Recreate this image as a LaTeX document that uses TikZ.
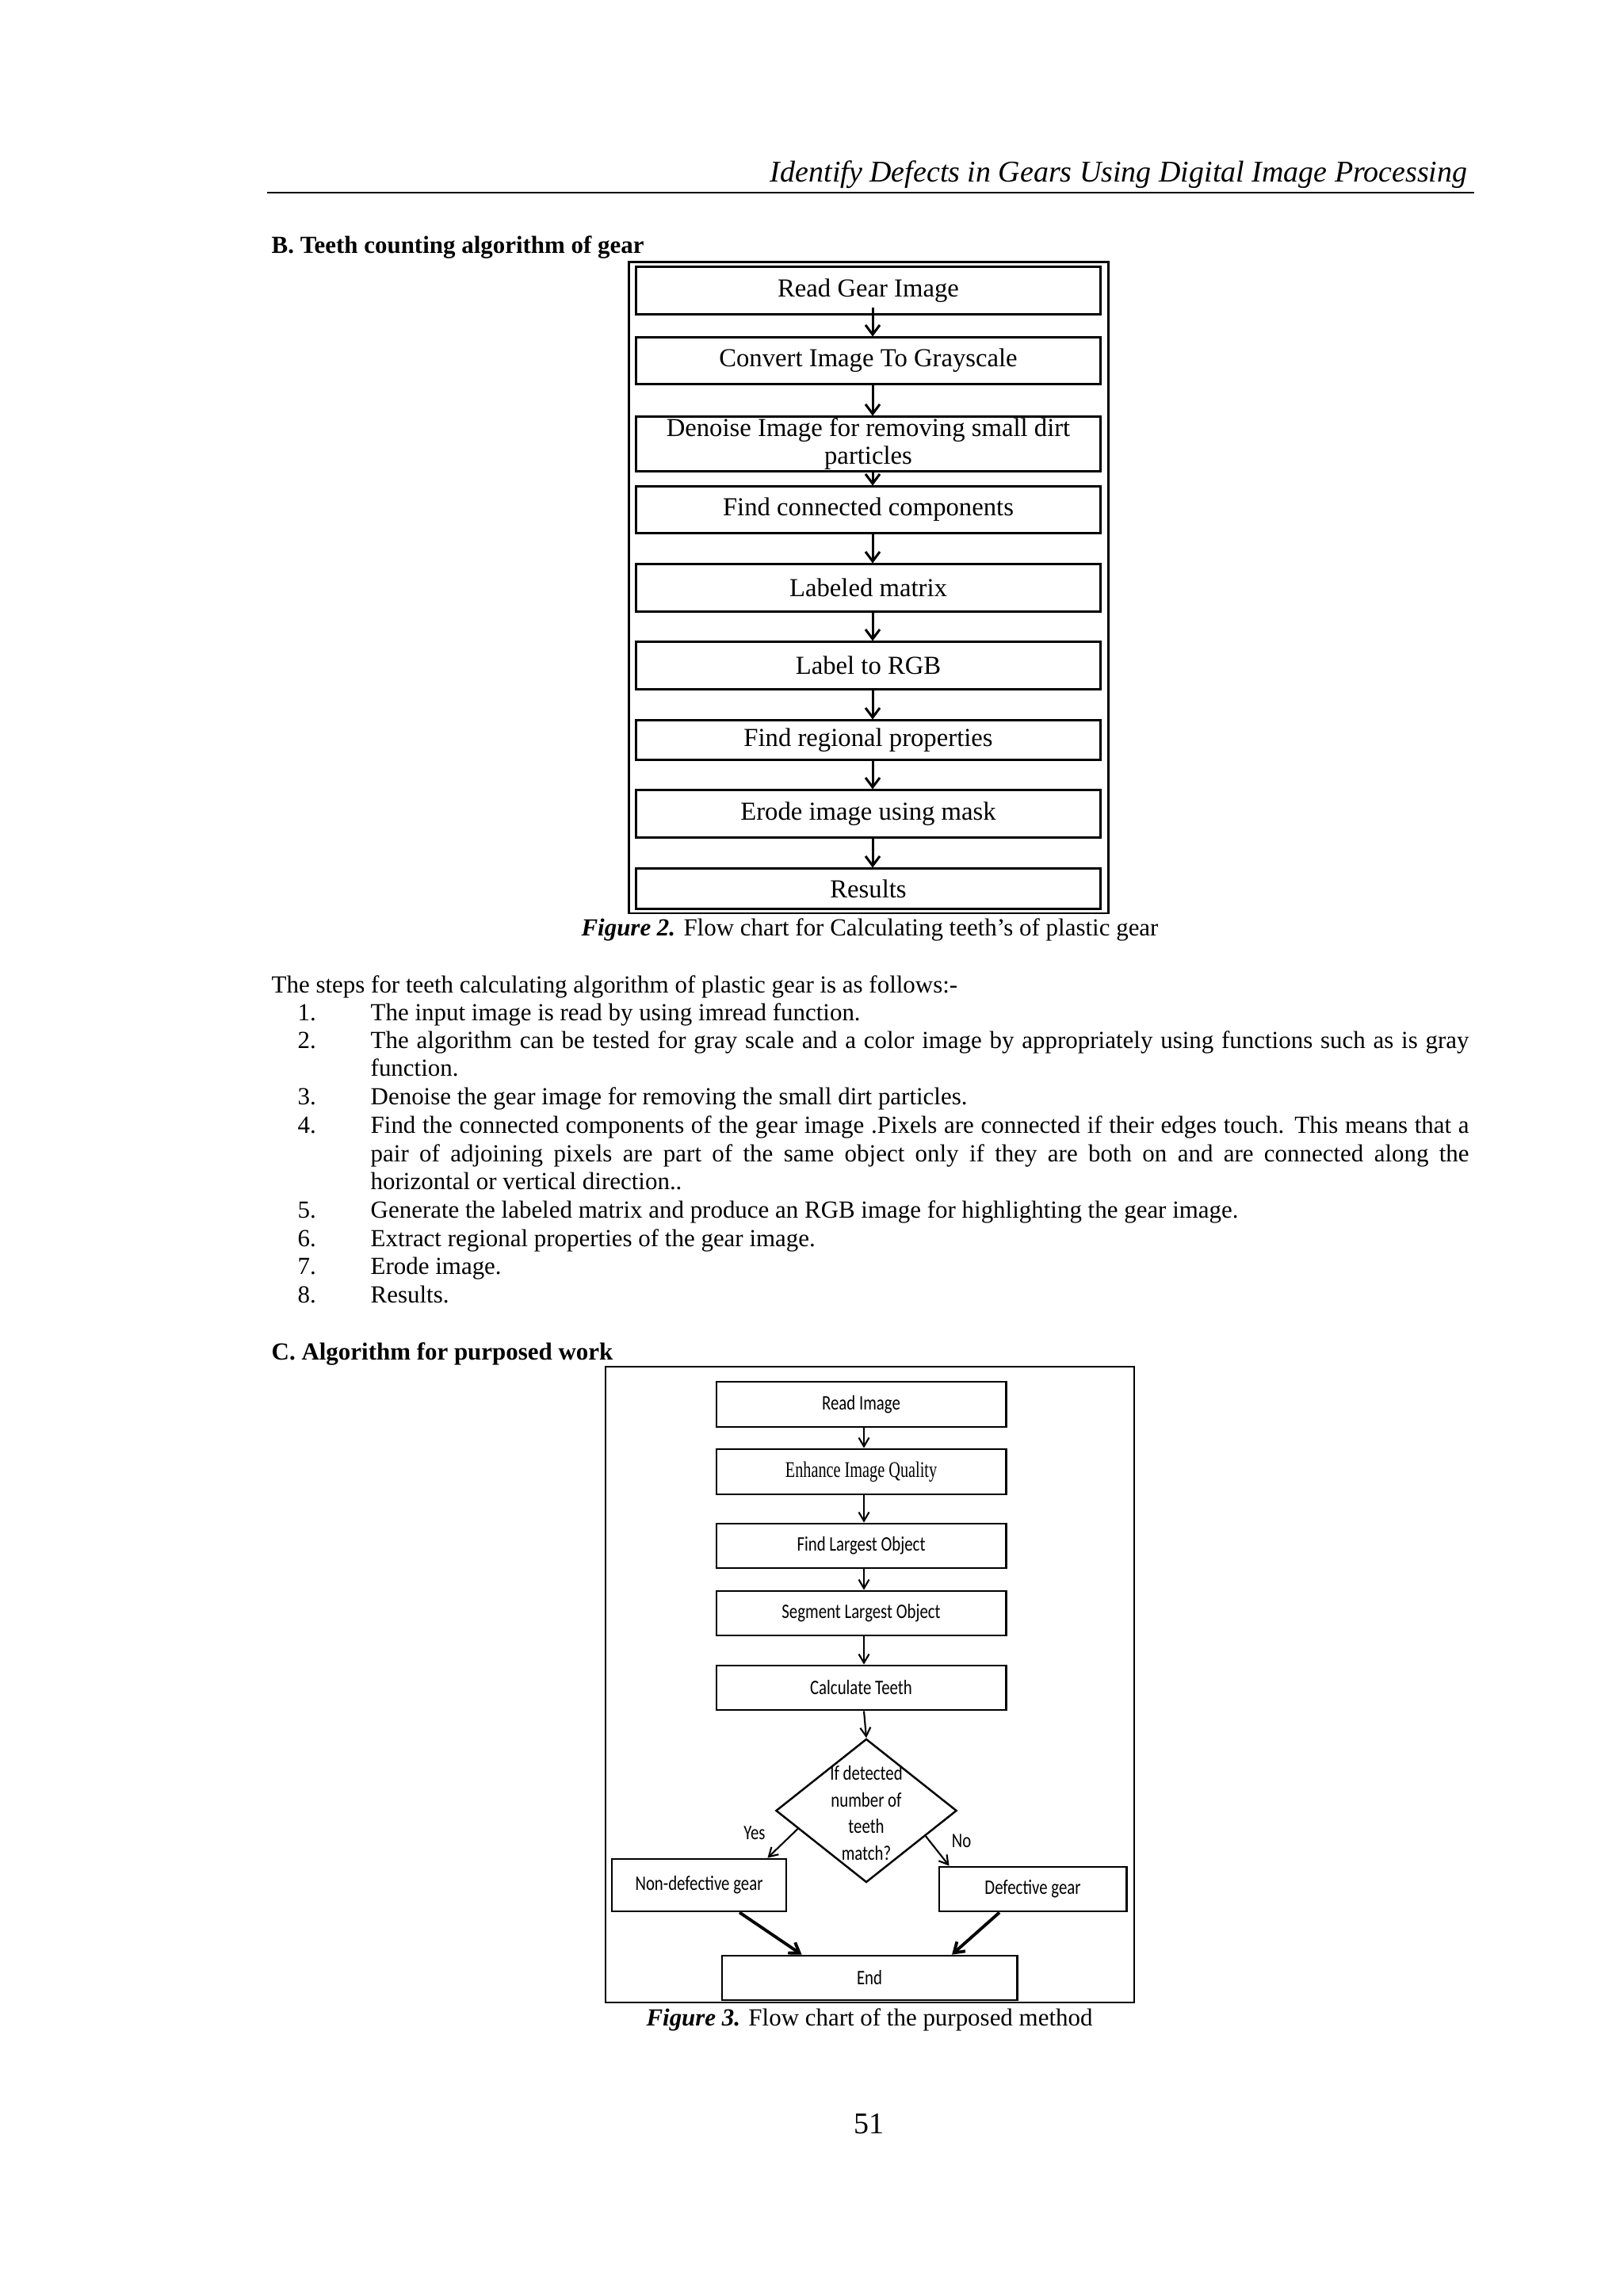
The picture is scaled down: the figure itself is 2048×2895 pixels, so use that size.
\documentclass[tikz,border=0pt]{standalone}
\usepackage{fontspec}
\setmainfont{Liberation Serif}
\newfontfamily\calib[FakeStretch=0.8]{Carlito}
\newfontfamily\condser[FakeStretch=0.72]{Liberation Serif}
\usetikzlibrary{arrows.meta, calc, shapes.geometric}

\newcommand{\bodysize}{\fontsize{8.8pt}{10pt}\selectfont}
\newcommand{\headsize}{\fontsize{10.8pt}{12pt}\selectfont}
\newcommand{\chartsize}{\fontsize{9.3pt}{10pt}\selectfont}
\newcommand{\smallchart}{\fontsize{7.4pt}{9.6pt}\selectfont}
\newcommand{\enhsize}{\fontsize{8pt}{9.6pt}\selectfont}

\begin{document}
\begin{tikzpicture}[x=0.01cm, y=-0.01cm,% one unit = one pixel of the page
         > = {Straight Barb[length=1.2mm, width=1.8mm]},
txt/.style  = {anchor=base west, inner sep=0pt, font=\bodysize},
fbox/.style = {draw, line width=0.85pt, minimum width=5.85cm,
               inner sep=0pt, align=center, font=\chartsize},
pbox/.style = {draw, line width=0.8pt, minimum width=3.65cm,
               inner sep=0pt, font=\calib\smallchart},
flow/.style = {->, line width=0.85pt},
pflow/.style = {->, line width=0.6pt,
                >={Straight Barb[length=1.1mm, width=1.3mm]}},
thickflow/.style = {->, line width=1.1pt,
                    >={Straight Barb[length=1.2mm, width=1.6mm]}}
                    ]
	\useasboundingbox (0,0) rectangle (2048,2895);

	% running head
	\node[anchor=base east, inner sep=0pt, font=\headsize\itshape] (title) at (1852,230)
	      {Identify Defects in Gears Using Digital Image Processing};
	\draw[line width=0.65pt] (337,243) -- (1860,243);

	\node[txt, font=\bodysize\bfseries] (secB) at (342,320) {B. Teeth counting algorithm of gear};

	% first flow chart
	\draw[line width=0.85pt] (793,331) rectangle (1398,1152);
	\node[fbox, minimum height=0.59cm] (read)    at (1095.5,366.5) {Read Gear Image};
	\node[fbox, minimum height=0.58cm] (gray)    at (1095.5,455)   {Convert Image To Grayscale};
	\node[fbox, minimum height=0.68cm] (denoise) at (1095.5,560)   {Denoise Image for removing small dirt\\particles};
	\node[fbox, minimum height=0.58cm] (conn)    at (1095.5,643)   {Find connected components};
	\node[fbox, minimum height=0.59cm] (labmat)  at (1095.5,741.5) {Labeled matrix};
	\node[fbox, minimum height=0.59cm] (rgb)     at (1095.5,839.5) {Label to RGB};
	\node[fbox, minimum height=0.49cm] (props)   at (1095.5,933.5) {Find regional properties};
	\node[fbox, minimum height=0.59cm] (erode)   at (1095.5,1026.5) {Erode image using mask};
	\node[fbox, minimum height=0.50cm] (result)  at (1095.5,1121)  {Results};

	\draw[flow] ([xshift=0.055cm, yshift=0.09cm]read.south) -- ([xshift=0.055cm]gray.north);
	\draw[flow] ([xshift=0.055cm]gray.south)    -- ([xshift=0.055cm]denoise.north);
	\draw[flow] ([xshift=0.055cm]denoise.south) -- ([xshift=0.055cm]conn.north);
	\draw[flow] ([xshift=0.055cm]conn.south)    -- ([xshift=0.055cm]labmat.north);
	\draw[flow] ([xshift=0.055cm]labmat.south)  -- ([xshift=0.055cm]rgb.north);
	\draw[flow] ([xshift=0.055cm]rgb.south)     -- ([xshift=0.055cm]props.north);
	\draw[flow] ([xshift=0.055cm]props.south)   -- ([xshift=0.055cm]erode.north);
	\draw[flow] ([xshift=0.055cm]erode.south)   -- ([xshift=0.055cm]result.north);

	\node[anchor=base, inner sep=0pt, font=\bodysize] (cap2) at (1097.5,1180)
	      {\textbf{\textit{Figure 2.}} Flow chart for Calculating teeth’s of plastic gear};

	% list of steps
	\node[txt] (intro) at (342,1252) {The steps for teeth calculating algorithm of plastic gear is as follows:-};
	\node[txt] (n1) at (375,1287) {1.};
	\node[txt] (s1) at (467,1287) {The input image is read by using imread function.};
	\node[txt] (n2) at (375,1322) {2.};
	\node[txt] (s2) at (467,1322) {\makebox[13.85cm][s]{The algorithm can be tested for gray scale and a color image by appropriately using functions such as is gray}};
	\node[txt] (s2b) at (467,1357) {function.};
	\node[txt] (n3) at (375,1393) {3.};
	\node[txt] (s3) at (467,1393) {Denoise the gear image for removing the small dirt particles.};
	\node[txt] (n4) at (375,1429) {4.};
	\node[txt] (s4) at (467,1429) {\makebox[13.85cm][s]{Find the connected components of the gear image .Pixels are connected if their edges touch. This means that a}};
	\node[txt] (s4b) at (467,1465) {\makebox[13.85cm][s]{pair of adjoining pixels are part of the same object only if they are both on and are connected along the}};
	\node[txt] (s4c) at (467,1500) {horizontal or vertical direction..};
	\node[txt] (n5) at (375,1536) {5.};
	\node[txt] (s5) at (467,1536) {Generate the labeled matrix and produce an RGB image for highlighting the gear image.};
	\node[txt] (n6) at (375,1572) {6.};
	\node[txt] (s6) at (467,1572) {Extract regional properties of the gear image.};
	\node[txt] (n7) at (375,1607) {7.};
	\node[txt] (s7) at (467,1607) {Erode image.};
	\node[txt] (n8) at (375,1643) {8.};
	\node[txt] (s8) at (467,1643) {Results.};

	\node[txt, font=\bodysize\bfseries] (secC) at (342,1715) {C. Algorithm for purposed work};

	% second flow chart
	\draw[line width=0.8pt] (764,1724) rectangle (1431,2526);
	\node[pbox, minimum height=0.57cm] (rdimg) at (1086.5,1771.5) {Read Image};
	\node[pbox, minimum height=0.57cm, font=\condser\enhsize] (enh) at (1086.5,1856.5) {Enhance Image Quality};
	\node[pbox, minimum height=0.56cm] (large) at (1086.5,1950) {Find Largest Object};
	\node[pbox, minimum height=0.56cm] (seg)   at (1086.5,2035) {Segment Largest Object};
	\node[pbox, minimum height=0.56cm] (teeth) at (1086.5,2129) {Calculate Teeth};
	\node[draw, diamond, line width=0.7pt, minimum width=2.28cm, minimum height=1.81cm,
	      inner sep=0pt] (match) at (1093,2284) {};
	\node[align=center, inner sep=0pt, font=\calib\smallchart] (matchtxt) at (1093,2287)
	      {If detected\\number of\\teeth\\match?};
	\node[pbox, minimum width=2.2cm, minimum height=0.66cm]  (ndef) at (882,2378)  {Non-defective gear};
	\node[pbox, minimum width=2.36cm, minimum height=0.56cm] (def)  at (1303,2383) {Defective gear};
	\node[pbox, minimum width=3.72cm, minimum height=0.56cm] (stop) at (1097,2495) {End};

	\draw[pflow] ([xshift=0.035cm]rdimg.south) -- ([xshift=0.035cm]enh.north);
	\draw[pflow] ([xshift=0.035cm]enh.south)   -- ([xshift=0.035cm]large.north);
	\draw[pflow] ([xshift=0.035cm]large.south) -- ([xshift=0.035cm]seg.north);
	\draw[pflow] ([xshift=0.035cm]seg.south)   -- ([xshift=0.035cm]teeth.north);
	\draw[pflow] ([xshift=0.035cm]teeth.south) -- (match.north);

	\draw[pflow] ($(match.west)!0.25!(match.south)$) -- ([xshift=-0.25cm]ndef.north east);
	\draw[pflow] ($(match.east)!0.35!(match.south)$) -- ([xshift=0.14cm]def.north west);
	\node[anchor=base, inner sep=0pt, font=\calib\smallchart] (yes) at (952,2320) {Yes};
	\node[anchor=base, inner sep=0pt, font=\calib\smallchart] (no)  at (1213,2330) {No};

	\draw[thickflow] ([xshift=0.51cm]ndef.south) -- ([xshift=1.02cm]stop.north west);
	\draw[thickflow] ([xshift=-0.42cm]def.south) -- ([xshift=1.04cm]stop.north);

	\node[anchor=base, inner sep=0pt, font=\bodysize] (cap3) at (1097,2555)
	      {\textbf{\textit{Figure 3.}} Flow chart of the purposed method};

	% page number
	\node[anchor=base, inner sep=0pt, font=\headsize] (page) at (1096,2691) {51};
\end{tikzpicture}
\end{document}
